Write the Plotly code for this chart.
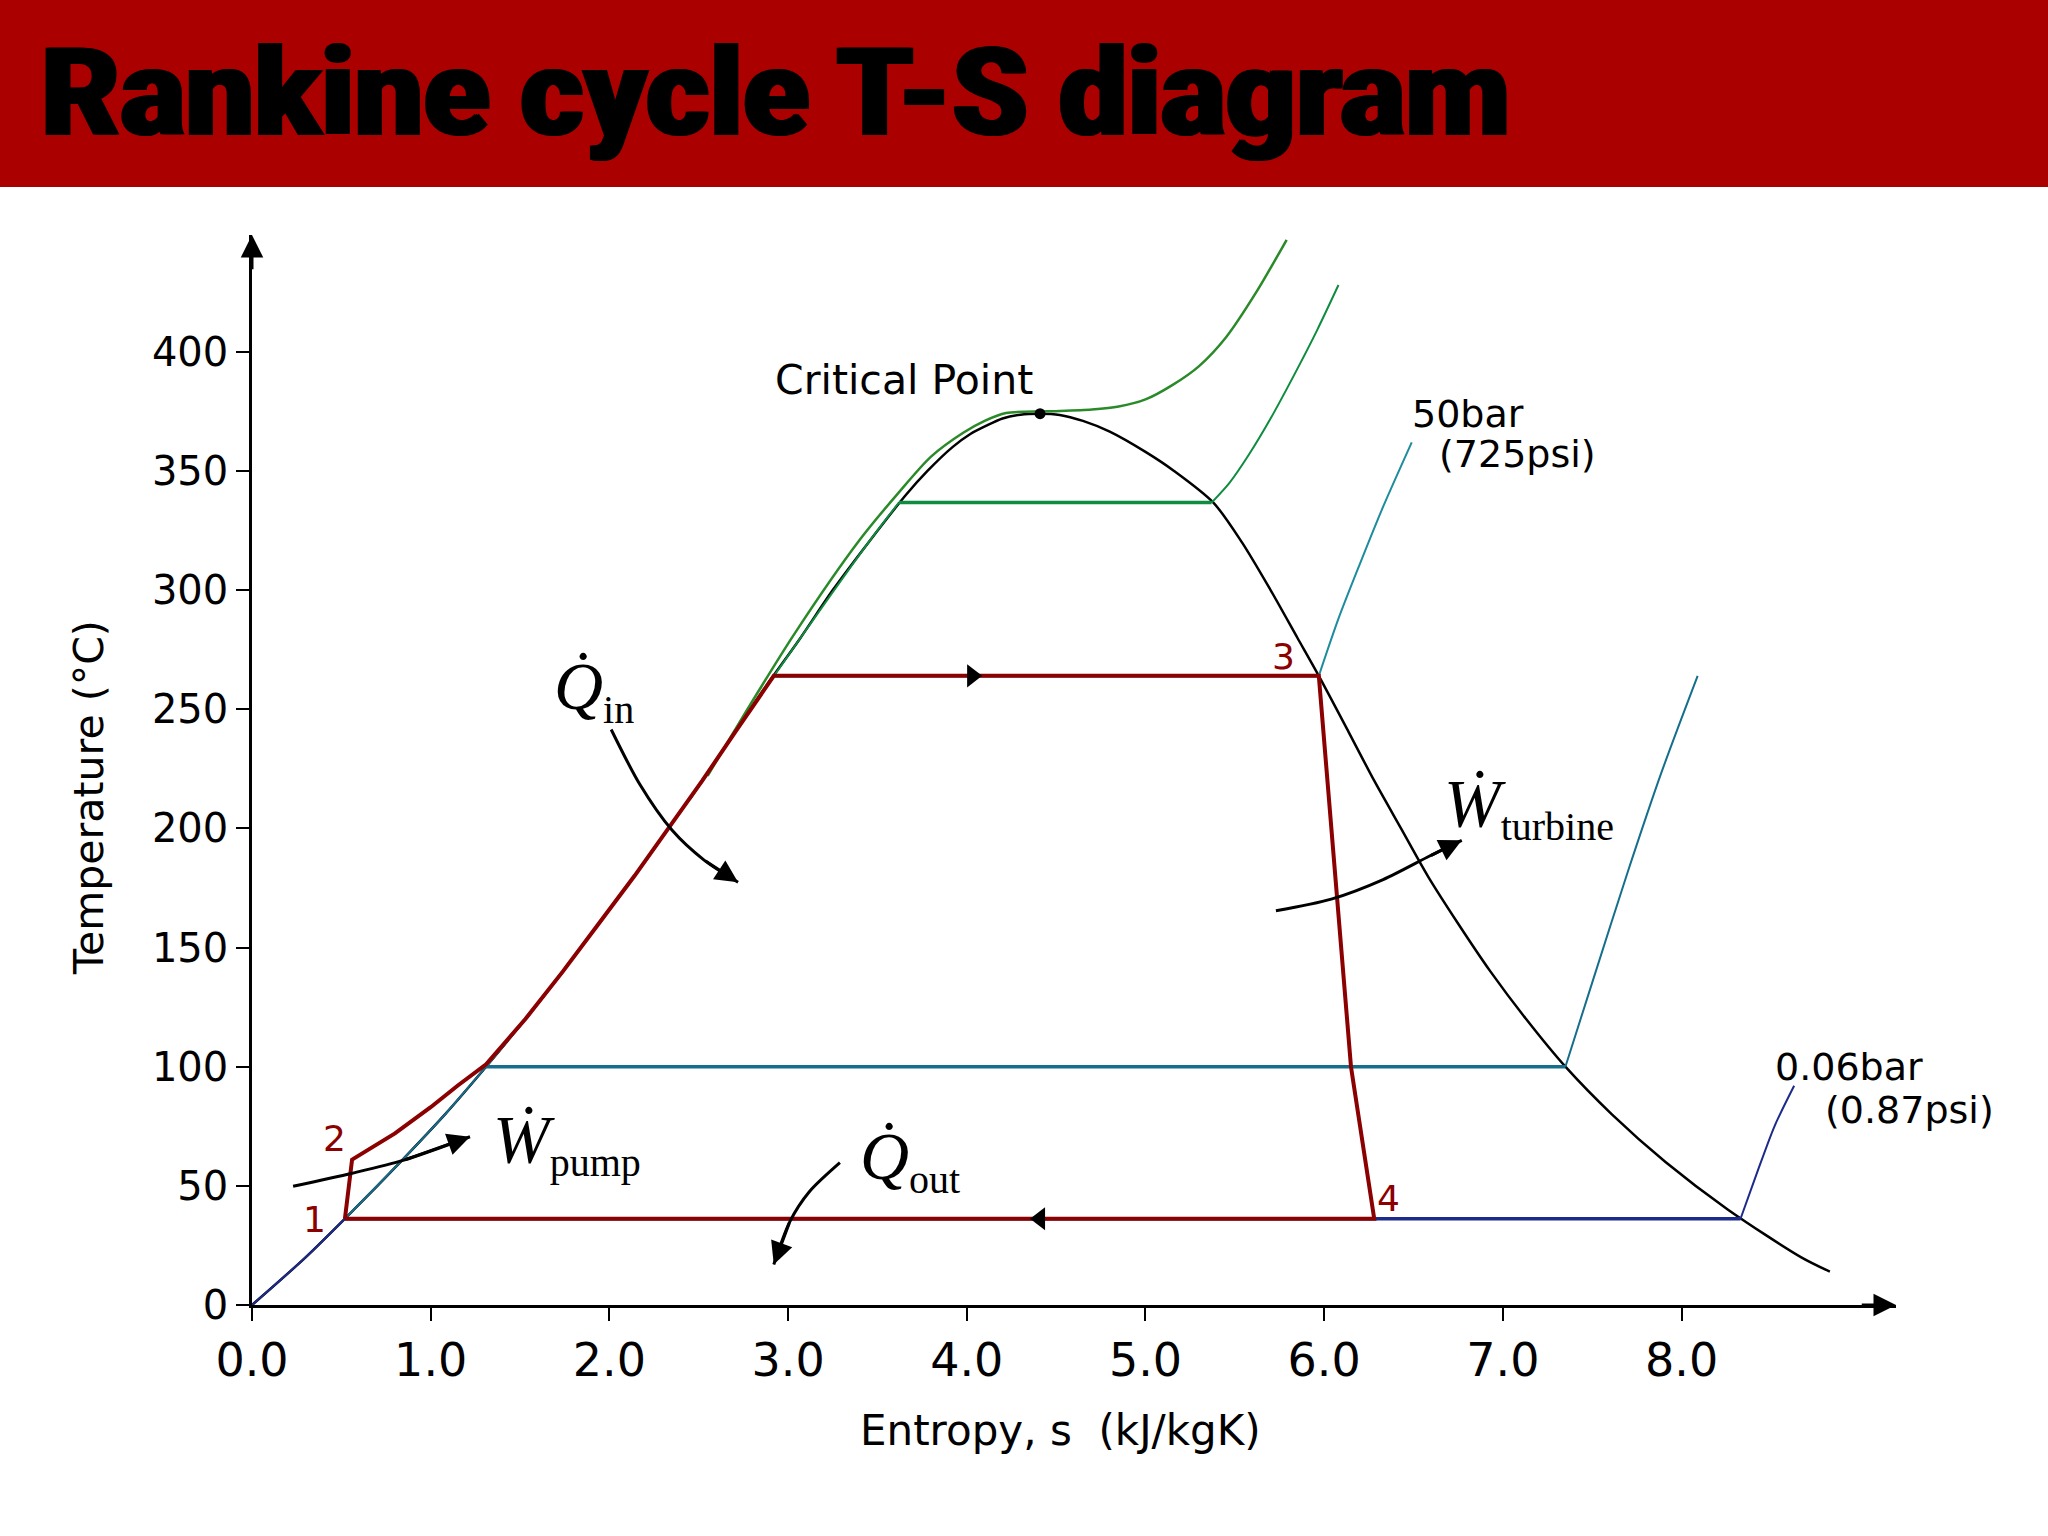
import plotly.graph_objects as go

# ---------------- data ----------------
# saturation dome
dome_liq_s = [0.0, 0.30, 0.57, 0.83, 1.08, 1.31, 1.53, 1.74, 1.94, 2.14, 2.33, 2.52, 2.70, 2.88, 3.07, 3.25, 3.45, 3.66, 3.78, 3.92, 4.02, 4.11, 4.20, 4.30, 4.41]
dome_liq_T = [0, 20, 40, 60, 80, 100, 120, 140, 160, 180, 200, 220, 240, 260, 280, 300, 320, 340, 350, 360, 365.5, 369, 372, 373.6, 374]
dome_vap_s = [4.52, 4.65, 4.80, 5.00, 5.16, 5.38, 5.54, 5.70, 5.85, 5.97, 6.14, 6.28, 6.43, 6.58, 6.75, 6.93, 7.13, 7.35, 7.61, 7.91, 8.26, 8.67, 8.83]
dome_vap_T = [373.5, 371, 366.5, 358, 350, 336.7, 320, 300, 280, 264, 240, 220, 200, 180, 160, 140, 120, 100, 80, 60, 40, 20, 14]

# isobar 0.06 bar
p006_liq_s = [0.0, 0.30, 0.52]
p006_liq_T = [0, 20, 36.2]
p006_sup_s = [8.33, 8.42, 8.52, 8.63]
p006_sup_T = [36.2, 55, 75, 92]

# isobar 1 bar (100 C)
p1_liq_s = [0.52, 0.83, 1.08, 1.31]
p1_liq_T = [36.2, 60, 80, 100]
p1_sup_s = [7.35, 7.52, 7.70, 7.89, 8.09]
p1_sup_T = [100, 140, 182, 224, 264]

# isobar 50 bar
p50_liq_s = [1.31, 1.53, 1.94, 2.33, 2.70, 2.92]
p50_liq_T = [100, 120, 160, 200, 240, 264]
p50_sup_s = [5.97, 6.08, 6.20, 6.33, 6.49]
p50_sup_T = [264, 288, 311, 335, 362]

# isobar ~140 bar
p140_liq_s = [2.45, 2.70, 3.07, 3.45, 3.62]
p140_liq_T = [212, 240, 280, 320, 336.7]
p140_sup_s = [5.37, 5.47, 5.58, 5.70, 5.83, 5.96, 6.08]
p140_sup_T = [336.7, 345, 357, 372, 390, 409, 428]

# supercritical isobar
psc_s = [2.55, 2.70, 3.03, 3.40, 3.62, 3.80, 3.98, 4.10, 4.22, 4.45, 4.70, 4.85, 5.00, 5.15, 5.30, 5.45, 5.62, 5.79]
psc_T = [222, 241, 281, 321, 341, 356, 366, 371, 374.3, 375, 375.8, 377, 380, 386, 394, 406, 425, 447]

# Rankine cycle 1-2-3-4-1
cycle_s = [0.52, 0.56, 0.80, 1.00, 1.15, 1.31, 1.53, 1.74, 1.94, 2.14, 2.33, 2.52, 2.70, 2.92, 5.97, 6.15, 6.28, 0.52]
cycle_T = [36.2, 61, 72, 83, 92, 101, 120, 140, 160, 180, 200, 220, 240, 264, 264, 100, 36.2, 36.2]

critical_s, critical_T = [4.41], [374]

# direction markers on the cycle
dir_s = [4.03, 4.41]
dir_T = [264, 36.2]
dir_sym = ["triangle-right", "triangle-left"]

# curved black arrows (energy flows)
qin_s = [2.01, 2.17, 2.35, 2.53, 2.72]
qin_T = [241.5, 218.5, 199.3, 186.7, 177.4]
wturb_s = [5.73, 6.04, 6.33, 6.59, 6.77]
wturb_T = [165.4, 170.3, 178.5, 188.4, 195.0]
wpump_s = [0.23, 0.56, 0.85, 1.22]
wpump_T = [49.8, 55.3, 60.8, 70.6]
qout_s = [3.29, 3.12, 3.01, 2.92]
qout_T = [59.7, 47.6, 35.0, 17.0]

x_ticks = [0, 1, 2, 3, 4, 5, 6, 7, 8]
x_ticktext = ["0.0", "1.0", "2.0", "3.0", "4.0", "5.0", "6.0", "7.0", "8.0"]
y_ticks = [0, 50, 100, 150, 200, 250, 300, 350, 400]

point_labels = ["1", "2", "3", "4"]
point_s = [0.35, 0.46, 5.77, 6.36]
point_T = [36, 70, 272, 44.5]

X_MAX, Y_MAX = 9.2, 449

# ---------------- colours ----------------
RED = "#8b0000"
BLUE = "#1c2a8c"
TEAL1 = "#146e8c"
TEAL50 = "#1e8c9e"
GREEN140 = "#0f8c40"
GREENSC = "#2a8a2a"

fig = go.Figure()


def line(xs, ys, color, width, shape="linear"):
    fig.add_trace(go.Scatter(x=xs, y=ys, mode="lines",
                             line=dict(color=color, width=width, shape=shape, smoothing=0.8),
                             hoverinfo="skip", showlegend=False))


def isobar(ls, lT, ss, sT, color):
    line(ls, lT, color, 2, "spline")
    line([ls[-1], ss[0]], [lT[-1], sT[0]], color, 3.5)
    line(ss, sT, color, 2, "spline")


# dome
line(dome_liq_s + dome_vap_s, dome_liq_T + dome_vap_T, "black", 2.5, "spline")

# isobars
line(psc_s, psc_T, GREENSC, 2.5, "spline")
isobar(p140_liq_s, p140_liq_T, p140_sup_s, p140_sup_T, GREEN140)
isobar(p50_liq_s, p50_liq_T, p50_sup_s, p50_sup_T, TEAL50)
isobar(p1_liq_s, p1_liq_T, p1_sup_s, p1_sup_T, TEAL1)
isobar(p006_liq_s, p006_liq_T, p006_sup_s, p006_sup_T, BLUE)

# cycle
line(cycle_s, cycle_T, RED, 4)

fig.add_trace(go.Scatter(x=dir_s, y=dir_T, mode="markers",
                         marker=dict(symbol=dir_sym, size=20, color="black"),
                         hoverinfo="skip", showlegend=False))
fig.add_trace(go.Scatter(x=critical_s, y=critical_T, mode="markers",
                         marker=dict(symbol="circle", size=11, color="black"),
                         hoverinfo="skip", showlegend=False))

# curved arrows
for xs, ys in [(qin_s, qin_T), (wturb_s, wturb_T), (wpump_s, wpump_T), (qout_s, qout_T)]:
    line(xs, ys, "black", 3, "spline")
    fig.add_annotation(x=xs[-1], y=ys[-1], ax=xs[-2], ay=ys[-2], axref="x", ayref="y",
                       xref="x", yref="y", text="", showarrow=True,
                       arrowhead=2, arrowsize=1.5, arrowwidth=3, arrowcolor="black")

# axis arrowheads
fig.add_annotation(x=X_MAX, y=0, ax=X_MAX - 0.2, ay=0, axref="x", ayref="y", xref="x", yref="y",
                   text="", showarrow=True, arrowhead=2, arrowsize=1.5, arrowwidth=3, arrowcolor="black")
fig.add_annotation(x=0, y=Y_MAX, ax=0, ay=Y_MAX - 15, axref="x", ayref="y", xref="x", yref="y",
                   text="", showarrow=True, arrowhead=2, arrowsize=1.5, arrowwidth=3, arrowcolor="black")

SANS = "DejaVu Sans"
SERIF = "Liberation Serif"

# point labels
for lab, s, T in zip(point_labels, point_s, point_T):
    fig.add_annotation(x=s, y=T, xref="x", yref="y", text=lab, showarrow=False,
                       font=dict(family=SANS, size=36, color=RED), xanchor="center", yanchor="middle")


def txt(x, y, t, size=34, family=SANS, color="black"):
    fig.add_annotation(x=x, y=y, xref="x", yref="y", text=t, showarrow=False,
                       font=dict(family=family, size=size, color=color),
                       xanchor="left", yanchor="middle")


txt(2.914, 388, "Critical Point", 41)
txt(6.48, 374, "50bar", 38)
txt(6.63, 357, "(725psi)", 38)
txt(8.51, 100, "0.06bar", 38)
txt(8.79, 82, "(0.87psi)", 38)

SUB = "<sub><span style='font-size:40px'>%s</span></sub>"
txt(1.68, 258, "<i>Q\u0307</i>" + SUB % "in", 68, SERIF)
txt(6.66, 209, "<i>\u1e86</i>" + SUB % "turbine", 68, SERIF)
txt(1.34, 68, "<i>\u1e86</i>" + SUB % "pump", 68, SERIF)
txt(3.39, 61, "<i>Q\u0307</i>" + SUB % "out", 68, SERIF)

# axis titles (paper coords)
fig.add_annotation(x=(1060 - 252) / 1644, y=(1305 - 1430) / 1070, xref="paper", yref="paper",
                   text="Entropy, s  (kJ/kgK)", showarrow=False,
                   font=dict(family=SANS, size=42, color="black"), xanchor="center", yanchor="middle")
fig.add_annotation(x=(89 - 252) / 1644, y=(1305 - 798) / 1070, xref="paper", yref="paper",
                   text="Temperature (\u00b0C)", showarrow=False, textangle=-90,
                   font=dict(family=SANS, size=41, color="black"), xanchor="center", yanchor="middle")

# banner
fig.add_shape(type="rect", xref="paper", yref="paper", x0=-0.2, x1=1.2,
              y0=(1305 - 187) / 1070, y1=1.3, fillcolor="#aa0000", line=dict(width=0), layer="below")
fig.add_annotation(x=(39 - 252) / 1644, y=(1305 - 94) / 1070, xref="paper", yref="paper",
                   text="Rankine cycle T-S diagram", showarrow=False,
                   font=dict(family="Roboto, Liberation Sans, sans-serif", weight=900,
                             size=122, color="black", shadow="2px 0px 0px black, -2px 0px 0px black"),
                   xanchor="left", yanchor="middle")

fig.update_layout(
    width=2048, height=1536, autosize=False,
    margin=dict(l=252, r=152, t=235, b=231),
    paper_bgcolor="white", plot_bgcolor="white",
    xaxis=dict(range=[0, X_MAX], tickvals=x_ticks, ticktext=x_ticktext, ticks="outside",
               ticklen=13, tickwidth=2, tickcolor="black", showline=True, linecolor="black",
               linewidth=2.5, showgrid=False, zeroline=False,
               tickfont=dict(family=SANS, size=46, color="black")),
    yaxis=dict(range=[0, Y_MAX], tickvals=y_ticks, ticks="outside",
               ticklen=13, tickwidth=2, tickcolor="black", showline=True, linecolor="black",
               linewidth=2.5, showgrid=False, zeroline=False,
               tickfont=dict(family=SANS, size=40, color="black")),
    showlegend=False,
)

fig.write_html("out.html")
